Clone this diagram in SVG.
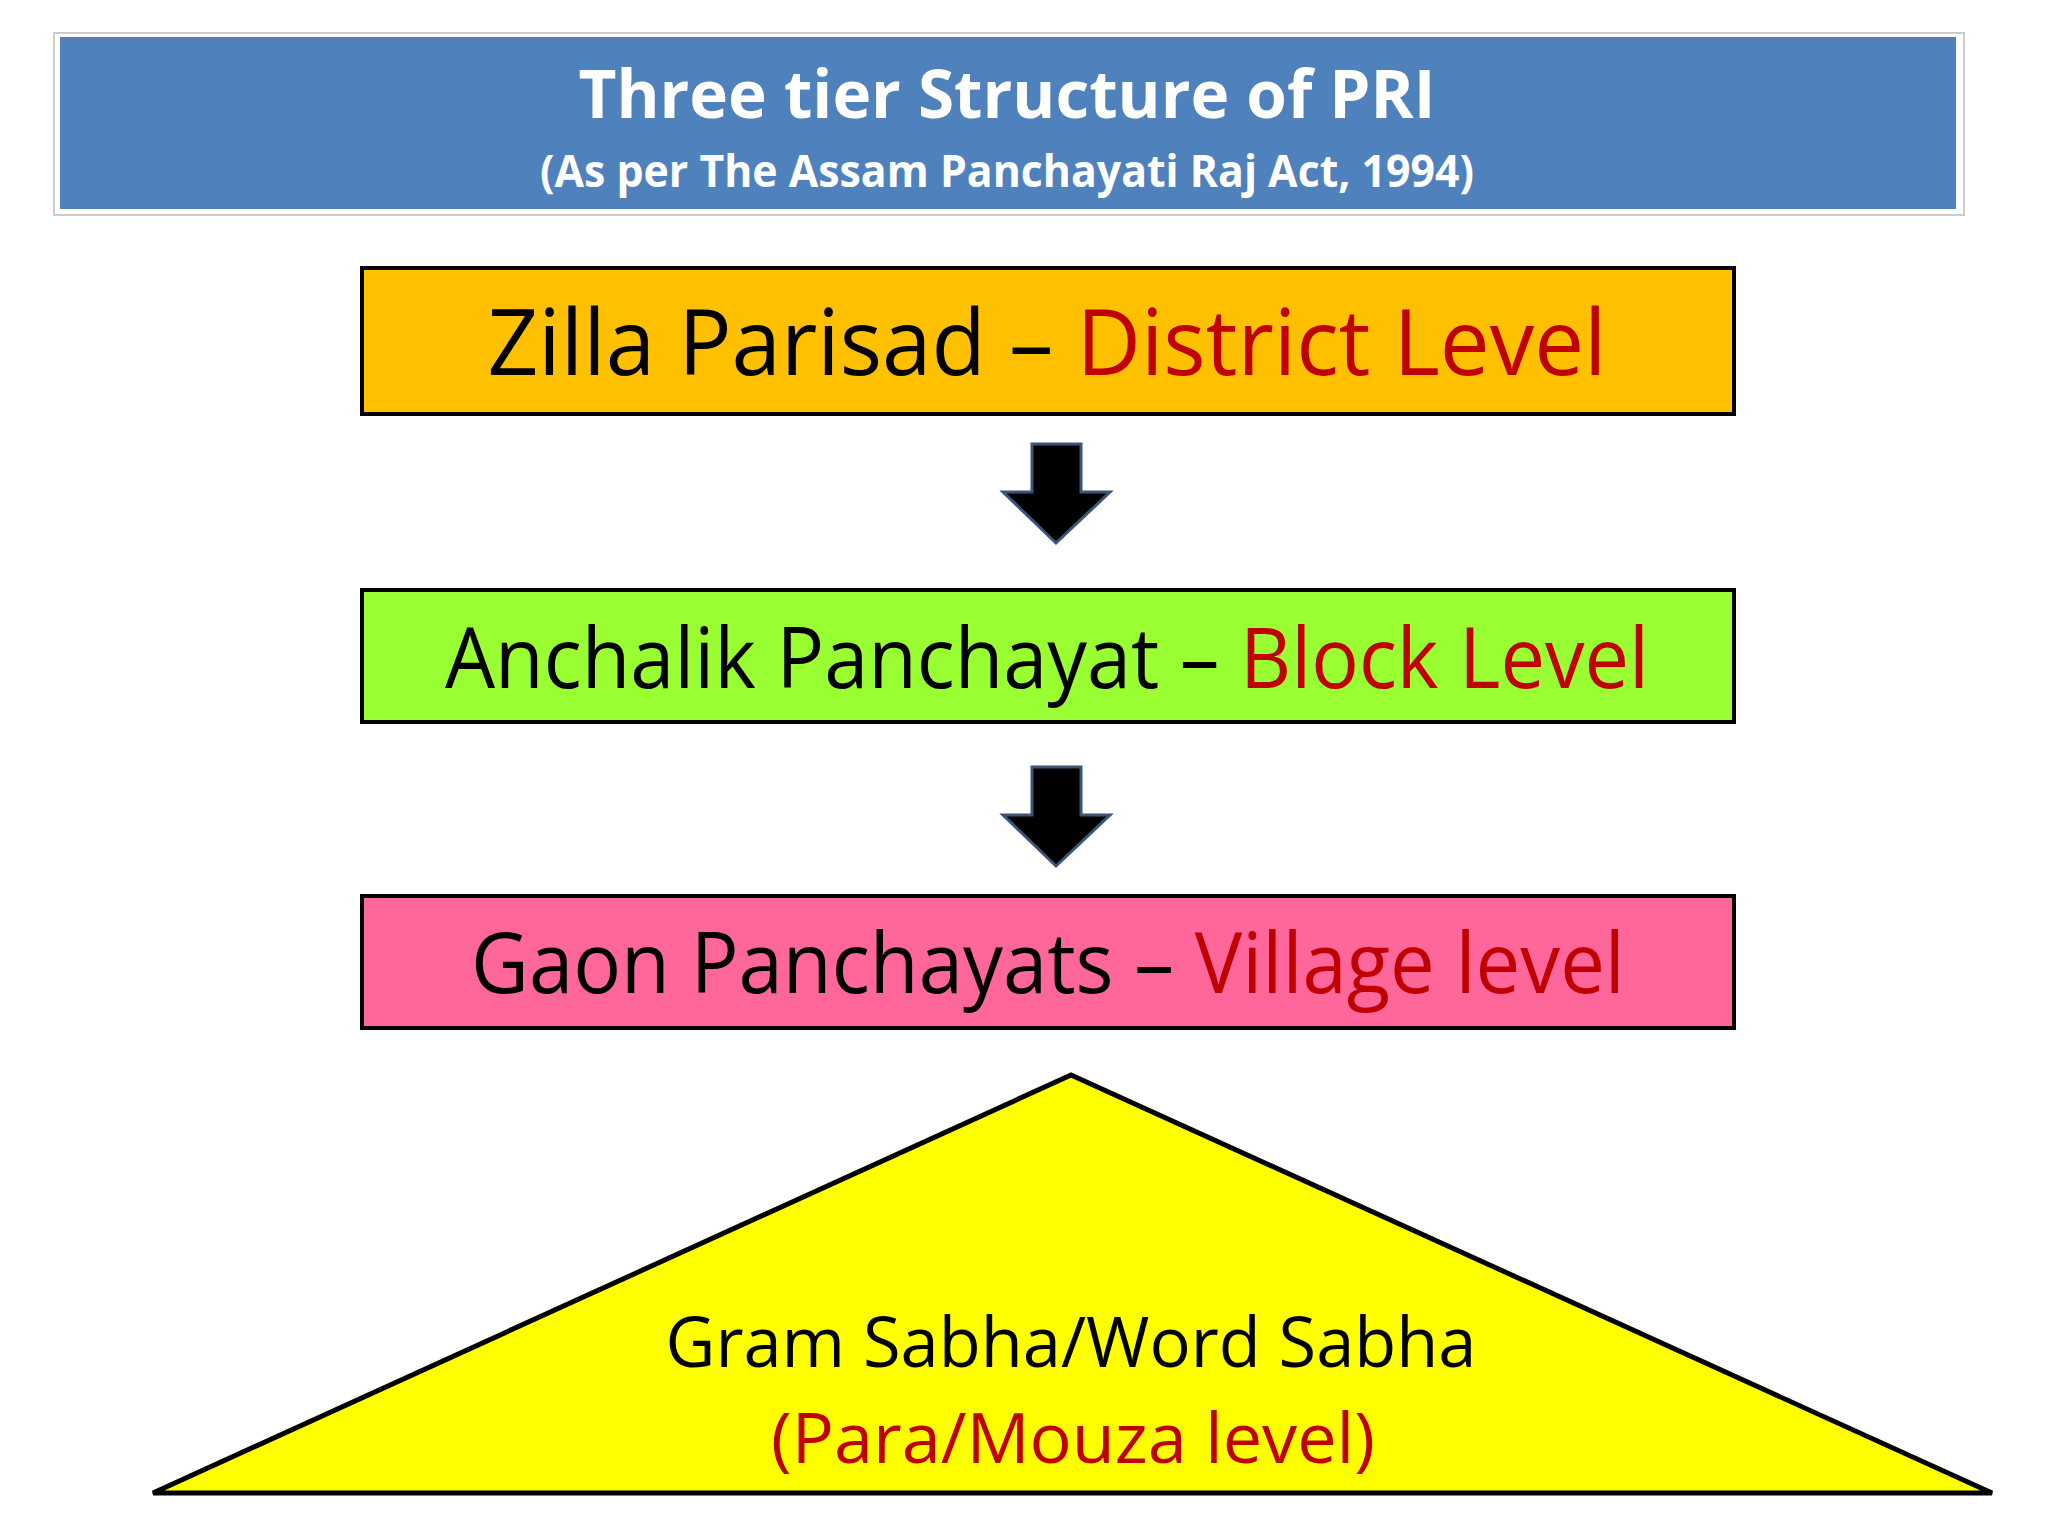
<svg xmlns="http://www.w3.org/2000/svg" width="2048" height="1536" viewBox="0 0 2048 1536">
<style>
text{font-family:"Open Sans","Liberation Sans",sans-serif;text-anchor:middle}
.box{stroke:#000;stroke-width:4}
.arr{fill:#000;stroke:#3a5578;stroke-width:3}
.red{fill:#c00000}
</style>
<rect width="2048" height="1536" fill="#fff"/>
<g id="header">
<rect x="54" y="33" width="1910" height="182" fill="#fff" stroke="#ccc" stroke-width="2"/>
<rect x="60" y="37" width="1896" height="172" fill="#4f81bd"/>
<text x="1007" y="118" font-size="66" font-weight="bold" fill="#fff" textLength="857" lengthAdjust="spacingAndGlyphs">Three tier Structure of PRI</text>
<text x="1007" y="187" font-size="44" font-weight="bold" fill="#fff" textLength="934" lengthAdjust="spacingAndGlyphs">(As per The Assam Panchayati Raj Act, 1994)</text>
</g>
<g id="zilla">
<rect class="box" x="362" y="268" width="1372" height="146" fill="#ffc000"/>
<text x="1047" y="375" font-size="92" textLength="1119" lengthAdjust="spacingAndGlyphs">Zilla Parisad – <tspan class="red">District Level</tspan></text>
</g>
<g id="anchalik">
<rect class="box" x="362" y="590" width="1372" height="132" fill="#99ff33"/>
<text x="1047" y="688" font-size="84" textLength="1204" lengthAdjust="spacingAndGlyphs">Anchalik Panchayat – <tspan class="red">Block Level</tspan></text>
</g>
<g id="gaon">
<rect class="box" x="362" y="896" width="1372" height="132" fill="#ff6699"/>
<text x="1048" y="993" font-size="84" textLength="1154" lengthAdjust="spacingAndGlyphs">Gaon Panchayats – <tspan class="red">Village level</tspan></text>
</g>
<g id="gram">
<polygon points="1071,1075 153,1493 1992,1493" fill="#ffff00" stroke="#000" stroke-width="5"/>
<text x="1071" y="1367" font-size="70" textLength="811" lengthAdjust="spacingAndGlyphs">Gram Sabha/Word Sabha</text>
<text x="1073" y="1463" font-size="70" class="red" textLength="604" lengthAdjust="spacingAndGlyphs">(Para/Mouza level)</text>
</g>
<g id="connectors">
<polygon class="arr" points="1032,444 1081,444 1081,492 1110,492 1056,543 1003,492 1032,492"/>
<polygon class="arr" points="1032,767 1081,767 1081,815 1110,815 1056,866 1003,815 1032,815"/>
</g>
</svg>
